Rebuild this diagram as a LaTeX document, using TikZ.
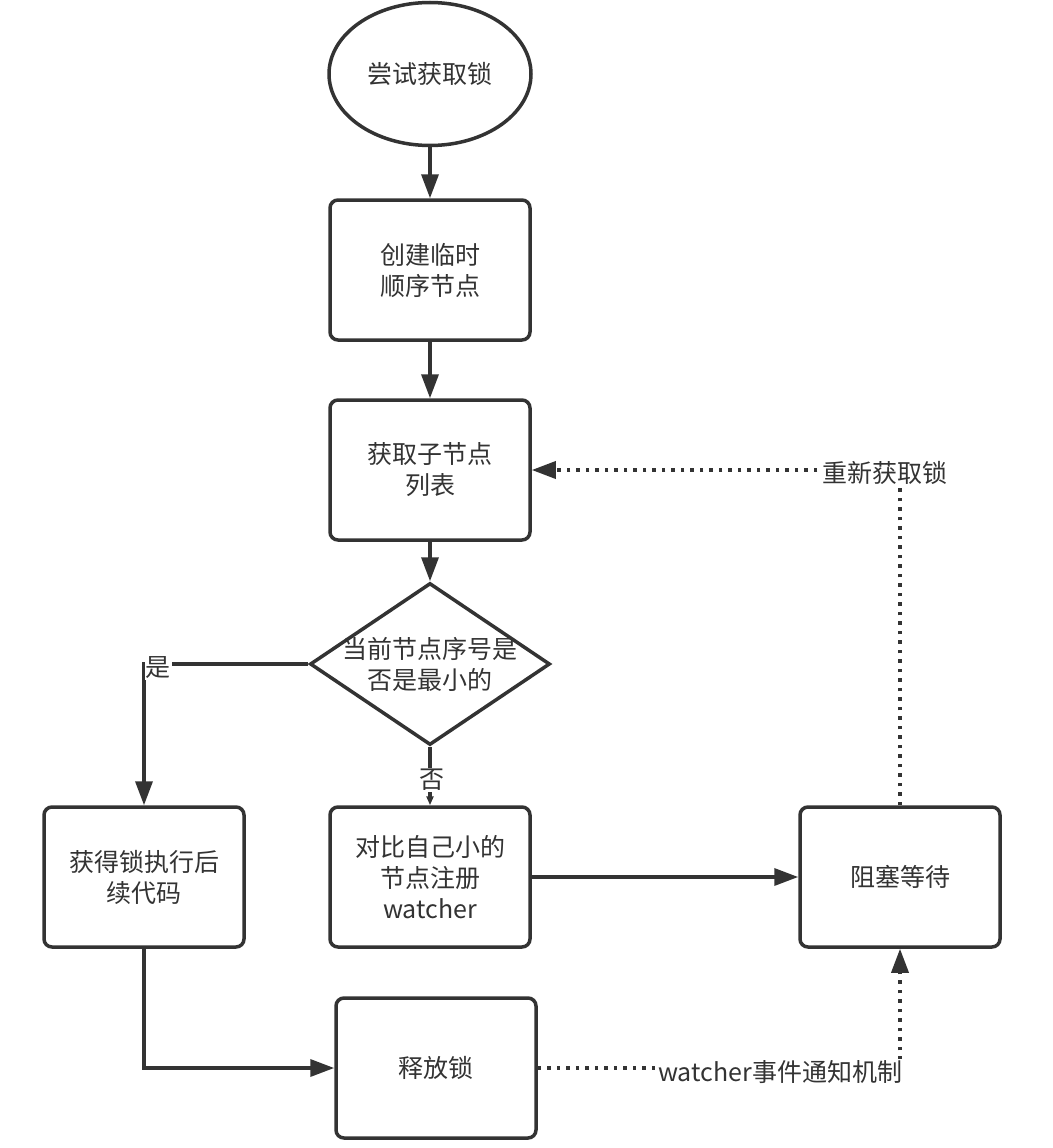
\documentclass[tikz,border=0pt]{standalone}
\usepackage{fontspec}
\newfontfamily\cjk{Noto Sans CJK SC}
\usetikzlibrary{shapes.geometric,arrows.meta}
\definecolor{ink}{HTML}{333333}
\begin{document}
\begin{tikzpicture}[x=1pt,y=-1pt,
  every node/.style={font=\cjk\fontsize{25}{31}\selectfont, text=ink, align=center},
  proc/.style={draw=ink, line width=3.5pt, rounded corners=8pt, minimum width=200pt, minimum height=140pt, fill=white},
  term/.style={draw=ink, line width=3.5pt, ellipse, minimum width=202pt, minimum height=143pt, inner sep=0pt},
  decision/.style={draw=ink, line width=3.5pt, diamond, minimum width=240pt, minimum height=162pt, inner sep=0pt},
  flow/.style={draw=ink, line width=3.5pt, -{Triangle[length=24pt,width=17pt]}},
  small/.style={draw=ink, line width=3.5pt, -{Triangle[length=9pt,width=7pt]}},
  dots/.style={draw=ink, line width=3.5pt, dash pattern=on 3.5pt off 6pt, -{Triangle[length=24pt,width=17pt]}},
  lbl/.style={fill=white, inner sep=1pt}]
\path[use as bounding box] (0,0) rectangle (1052,1148);
\node[term] (start) at (430,74) {尝试获取锁};
\node[proc] (create) at (430,270) {创建临时\\顺序节点};
\node[proc] (list) at (430,470) {获取子节点\\列表};
\node[decision] (dec) at (430,664) {};
\node (dectext) at (dec.center) {当前节点序号是\\否是最小的};
\node[proc] (got) at (144,877) {获得锁执行后\\续代码};
\node[proc] (watch) at (430,877) {对比自己小的\\节点注册\\watcher};
\node[proc] (block) at (900,877) {阻塞等待};
\node[proc] (release) at (436,1068) {释放锁};
\draw[flow] (start) -- (create);
\draw[flow] (create) -- (list);
\draw[flow] (list) -- (dec);
\draw[flow] (dec.west) -| (got.north);
\node[lbl] (yes) at (158,668) {是};
\draw[small] (dec.south) -- (watch.north);
\node[lbl] (no) at (432,780) {否};
\draw[flow] (watch) -- (block);
\draw[flow] (got.south) |- (release.west);
\draw[dots] (release.east) -| (block.south);
\node[lbl] (notify) at (780,1072) {watcher事件通知机制};
\draw[dots] (block.north) |- (list.east);
\node[lbl] (retry) at (885,473) {重新获取锁};
\end{tikzpicture}
\end{document}
